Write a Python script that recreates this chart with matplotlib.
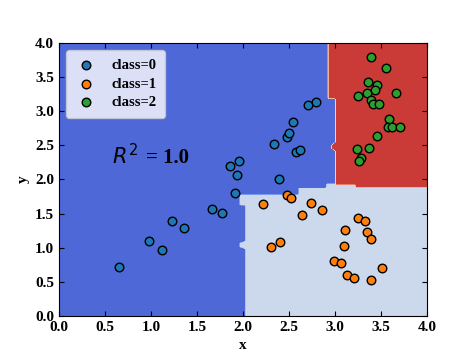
import numpy as np
import matplotlib
matplotlib.use('Agg')
import matplotlib.pyplot as plt
from matplotlib.path import Path

plt.rcParams['font.family'] = ['Liberation Serif', 'DejaVu Serif']

# 训练样本
x_class0 = [0.655, 0.978, 1.123, 1.228, 1.362, 1.663, 1.775, 1.916, 1.862, 1.960,
            1.932, 2.388, 2.334, 2.475, 2.500, 2.540, 2.576, 2.623, 2.703, 2.790]
y_class0 = [0.713, 1.095, 0.963, 1.397, 1.289, 1.564, 1.505, 1.798, 2.193, 2.267,
            2.070, 2.007, 2.520, 2.618, 2.677, 2.847, 2.399, 2.428, 3.096, 3.140]

x_class1 = [2.217, 2.475, 2.525, 2.739, 2.645, 2.855, 3.253, 3.326, 3.105, 3.351,
            3.388, 3.098, 2.301, 2.405, 2.989, 3.065, 3.127, 3.210, 3.388, 3.514]
y_class1 = [1.645, 1.768, 1.724, 1.660, 1.475, 1.549, 1.440, 1.388, 1.260, 1.226,
            1.128, 1.030, 1.007, 1.084, 0.806, 0.772, 0.596, 0.561, 0.532, 0.699]

x_class2 = [3.395, 3.558, 3.362, 3.457, 3.435, 3.351, 3.250, 3.660, 3.388, 3.410,
            3.475, 3.590, 3.579, 3.623, 3.703, 3.457, 3.239, 3.373, 3.279, 3.258]
y_class2 = [3.795, 3.629, 3.424, 3.385, 3.316, 3.263, 3.228, 3.263, 3.165, 3.106,
            3.111, 2.891, 2.774, 2.774, 2.765, 2.642, 2.451, 2.462, 2.311, 2.267]

# 决策区域边界 (多边形顶点, 稍微超出坐标范围)
region1_x = [2.03, 4.10, 4.10, 3.22, 3.22, 3.01, 2.92, 2.92, 2.61, 2.61, 1.97, 1.97,
             2.03, 2.03, 1.98, 1.98, 2.03]
region1_y = [-0.10, -0.10, 1.89, 1.89, 1.93, 1.93, 1.93, 1.875, 1.875, 1.77, 1.77, 1.63,
             1.63, 1.09, 1.07, 1.01, 0.99]

region2_x = [2.92, 4.10, 4.10, 3.22, 3.22, 3.01, 3.01, 2.96, 2.96, 3.01, 3.01, 2.92]
region2_y = [4.10, 4.10, 1.89, 1.89, 1.93, 1.93, 2.43, 2.45, 2.51, 2.53, 3.19, 3.19]

fig = plt.figure(figsize=(4.74, 3.55), dpi=100)
ax = fig.add_axes([0.1245, 0.1099, 0.7763, 0.769])

# 网格上的类别
gx = np.linspace(0, 4, 201)
gy = np.linspace(0, 4, 201)
xx, yy = np.meshgrid(gx, gy)
pts = np.column_stack([xx.ravel(), yy.ravel()])
Z = np.zeros(len(pts))
Z[Path(np.column_stack([region1_x, region1_y])).contains_points(pts)] = 1
Z[Path(np.column_stack([region2_x, region2_y])).contains_points(pts)] = 2
Z = Z.reshape(xx.shape)
ax.contourf(xx, yy, Z, cmap='coolwarm')

for xs, ys, lab in [(x_class0, y_class0, 'class=0'),
                    (x_class1, y_class1, 'class=1'),
                    (x_class2, y_class2, 'class=2')]:
    ax.scatter(xs, ys, s=38, edgecolors='black', linewidths=1, label=lab, zorder=3)

# R^2 标注
ax.text(0.58, 2.33, r'$R^2$', fontsize=15, va='center')
ax.text(0.95, 2.31, '= 1.0', fontsize=15, fontweight='bold', va='center')

ax.set_xlim(0, 4)
ax.set_ylim(0, 4)
ax.set_xticks(np.arange(0, 4.01, 0.5))
ax.set_yticks(np.arange(0, 4.01, 0.5))
ax.tick_params(direction='in', top=True, right=True, labelsize=11)
for lbl in ax.get_xticklabels() + ax.get_yticklabels():
    lbl.set_fontweight('bold')
ax.set_xlabel('x', fontsize=11, fontweight='bold')
ax.set_ylabel('y', fontsize=11, fontweight='bold')

ax.legend(loc='upper left', prop={'size': 10.5, 'weight': 'bold'},
          handlelength=1.5, handletextpad=1.0, labelspacing=0.35, borderpad=0.6)

plt.savefig('out.png', dpi=100)
